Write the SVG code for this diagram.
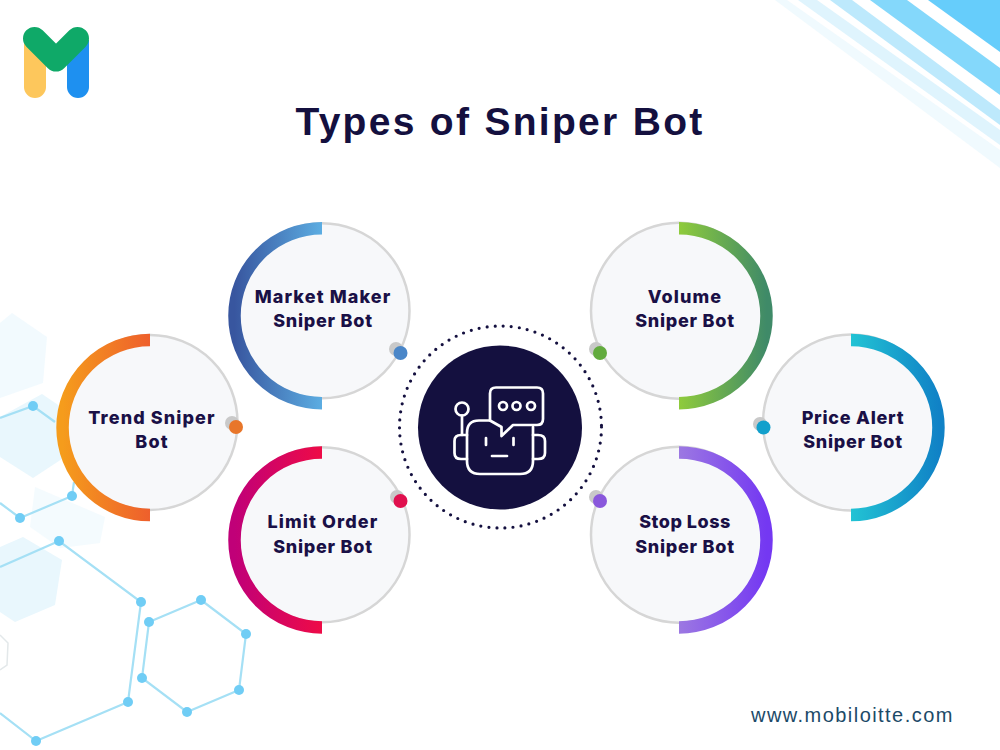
<svg xmlns="http://www.w3.org/2000/svg" width="1000" height="750" viewBox="0 0 1000 750">
<style>
.lbl{font-family:"Inter","Liberation Sans",sans-serif;font-weight:800;font-size:18px;fill:#1a1046;text-anchor:middle;letter-spacing:1.1px}
.tight{letter-spacing:.75px}
.disc{fill:#f7f8fa;stroke:#d6d6d6;stroke-width:2.5}
.arc{fill:none;stroke-width:12.5}
.knob{fill:#c9c9c9}
.hexfill{fill:#e9f7fd}
.hexline{fill:none;stroke:#a5e0f5;stroke-width:2.2}
.hexdot{fill:#70cdf5}
.ico{fill:none;stroke:#fff;stroke-width:2.7;stroke-linecap:round;stroke-linejoin:round}
</style>
<defs>
<linearGradient id="gBlue" x1="1" y1="0" x2="0" y2="0"><stop offset="0" stop-color="#5cade2"/><stop offset="1" stop-color="#38569f"/></linearGradient>
<linearGradient id="gOrange" x1="1" y1="0" x2="0" y2="0"><stop offset="0" stop-color="#ee5f2c"/><stop offset="1" stop-color="#f59c1c"/></linearGradient>
<linearGradient id="gRed" x1="1" y1="0" x2="0" y2="0"><stop offset="0" stop-color="#ee0b47"/><stop offset="1" stop-color="#c00078"/></linearGradient>
<linearGradient id="gGreen" x1="0" y1="0" x2="1" y2="0"><stop offset="0" stop-color="#8fcb3c"/><stop offset="1" stop-color="#3f8a68"/></linearGradient>
<linearGradient id="gCyan" x1="0" y1="0" x2="1" y2="0"><stop offset="0" stop-color="#22c3d4"/><stop offset="1" stop-color="#1082c6"/></linearGradient>
<linearGradient id="gPurple" x1="0" y1="0" x2="1" y2="0"><stop offset="0" stop-color="#9c78e2"/><stop offset="1" stop-color="#7438f2"/></linearGradient>
</defs>
<rect width="1000" height="750" fill="#fff"/>
<g id="stripes">
<polygon points="928,0 1000,0 1000,52" fill="#66cdfb"/>
<polygon points="870,0 907,0 1000,68 1000,95" fill="#84d8fb"/>
<polygon points="830,0 852,0 1000,110 1000,125" fill="#bde9fc"/>
<polygon points="798,0 817,0 1000,130 1000,145" fill="#dff4fd"/>
<polygon points="775,0 787,0 1000,150 1000,168" fill="#f0fafe"/>
</g>
<g id="logo">
<path d="M24 40H46V87A11 11 0 0 1 24 87Z" fill="#fdc75c"/>
<path d="M67 40H89V87A11 11 0 0 1 67 87Z" fill="#1e90f0"/>
<polyline points="34.500,38.500 56,60 77.500,38.500" fill="none" stroke="#0fa968" stroke-width="23" stroke-linecap="round" stroke-linejoin="round"/>
</g>
<g id="hexagons">
<polygon class="hexfill" points="12,313 47,337 43,383 0,398 0,323" opacity=".6"/>
<polygon class="hexfill" points="42,394 70,413 65,457 33,478 0,457 0,417"/>
<polygon class="hexfill" points="35,487 105,517 100,543 60,548 30,527" opacity=".5"/>
<polygon class="hexfill" points="23,537 62,560 55,605 15,622 0,612 0,547"/>
<polyline class="hexline" points="0,418 33,406 55,422"/>
<polyline class="hexline" points="0,503 20,518 72,496 74,482"/>
<polyline class="hexline" points="0,567 59,541 141,602 128,702 36,741 0,713"/>
<polygon class="hexline" points="201,600 246,634 239,690 187,712 142,678 149,622"/>
<polyline points="0,635 8,643 7,665 0,670" fill="none" stroke="#e3e8ea" stroke-width="1.5"/>
<g class="hexdot">
<circle cx="33" cy="406" r="5"/><circle cx="72" cy="496" r="5"/><circle cx="20" cy="518" r="5"/>
<circle cx="59" cy="541" r="5"/><circle cx="141" cy="602" r="5"/><circle cx="128" cy="702" r="5"/><circle cx="36" cy="741" r="5"/>
<circle cx="201" cy="600" r="5"/><circle cx="246" cy="634" r="5"/><circle cx="239" cy="690" r="5"/><circle cx="187" cy="712" r="5"/><circle cx="142" cy="678" r="5"/><circle cx="149" cy="622" r="5"/>
</g>
</g>
<text id="title" x="500" y="135" text-anchor="middle" font-family="'Liberation Sans',sans-serif" font-weight="700" font-size="39" letter-spacing="2.300" fill="#14103f">Types of Sniper Bot</text>
<g id="node-trend">
<circle class="disc" cx="150" cy="422.500" r="87.500"/>
<path class="arc" stroke="url(#gOrange)" d="M150 340A87.500 87.500 0 0 0 150 515"/>
<circle class="knob" cx="232" cy="423" r="7"/><circle cx="236" cy="427" r="7" fill="#e8762a"/>
<text class="lbl" x="152" y="424">Trend Sniper</text><text class="lbl" x="152" y="448">Bot</text>
</g>
<g id="node-market">
<circle class="disc" cx="322" cy="310.700" r="87.500"/>
<path class="arc" stroke="url(#gBlue)" d="M322 228.200A87.500 87.500 0 0 0 322 403.200"/>
<circle class="knob" cx="396" cy="349" r="7"/><circle cx="400.500" cy="353" r="7" fill="#4a86c8"/>
<text class="lbl" x="323" y="303">Market Maker</text><text class="lbl tight" x="323" y="327">Sniper Bot</text>
</g>
<g id="node-limit">
<circle class="disc" cx="322" cy="534.700" r="87.500"/>
<path class="arc" stroke="url(#gRed)" d="M322 452.400A87.500 87.500 0 0 0 322 627.400"/>
<circle class="knob" cx="397" cy="497" r="7"/><circle cx="400.500" cy="501" r="7" fill="#e0104e"/>
<text class="lbl" x="323" y="528">Limit Order</text><text class="lbl tight" x="323" y="553">Sniper Bot</text>
</g>
<g id="node-volume">
<circle class="disc" cx="679" cy="310.700" r="88"/>
<path class="arc" stroke="url(#gGreen)" d="M679 228.200A87.500 87.500 0 0 1 679 403.200"/>
<circle class="knob" cx="596" cy="349" r="7"/><circle cx="600" cy="353" r="7" fill="#62ab3e"/>
<text class="lbl" x="685" y="303">Volume</text><text class="lbl tight" x="685" y="327">Sniper Bot</text>
</g>
<g id="node-price">
<circle class="disc" cx="851" cy="422.500" r="88"/>
<path class="arc" stroke="url(#gCyan)" d="M851 340A87.500 87.500 0 0 1 851 515"/>
<circle class="knob" cx="760" cy="424" r="7"/><circle cx="763.500" cy="427.500" r="7" fill="#12a0cc"/>
<text class="lbl tight" x="853" y="424">Price Alert</text><text class="lbl tight" x="853" y="448">Sniper Bot</text>
</g>
<g id="node-stop">
<circle class="disc" cx="679" cy="534.700" r="88"/>
<path class="arc" stroke="url(#gPurple)" d="M679 452.400A87.500 87.500 0 0 1 679 627.400"/>
<circle class="knob" cx="596" cy="497" r="7"/><circle cx="600" cy="501" r="7" fill="#8a58dc"/>
<text class="lbl" style="letter-spacing:.5px" x="685" y="528">Stop Loss</text><text class="lbl tight" x="685" y="553">Sniper Bot</text>
</g>
<g id="node-center">
<circle cx="500.500" cy="427" r="101" fill="none" stroke="#14103f" stroke-width="3.200" stroke-linecap="round" stroke-dasharray="0 8.100"/>
<circle cx="500" cy="427.500" r="82" fill="#14103f"/>
<g class="ico">
<path d="M496 387.500H537Q543 387.500 543 393.500V419Q543 425 537 425H513L501.500 436V427L490 420.500V393.500Q490 387.500 496 387.500Z"/>
<path d="M490 420.500H479Q467 420.500 467 433V461Q467 474 480 474H520Q533 474 533 461V427"/>
<path d="M467 435H461Q454.500 435 454.500 441V453Q454.500 459 461 459H467M533 435H538Q545 435 545 441V453Q545 459 538 459H533"/>
<circle cx="462" cy="409" r="6.500"/><path d="M462 415.500V435"/>
<path d="M486 438V445M513.500 438V445M492 456H507"/>
<circle cx="503" cy="406" r="4"/><circle cx="516.500" cy="406" r="4"/><circle cx="531" cy="406" r="4"/>
</g>
</g>
<text id="url" x="751" y="722" font-family="'Liberation Sans',sans-serif" font-size="20" letter-spacing="1.450" fill="#1c4a68">www.mobiloitte.com</text>
</svg>
